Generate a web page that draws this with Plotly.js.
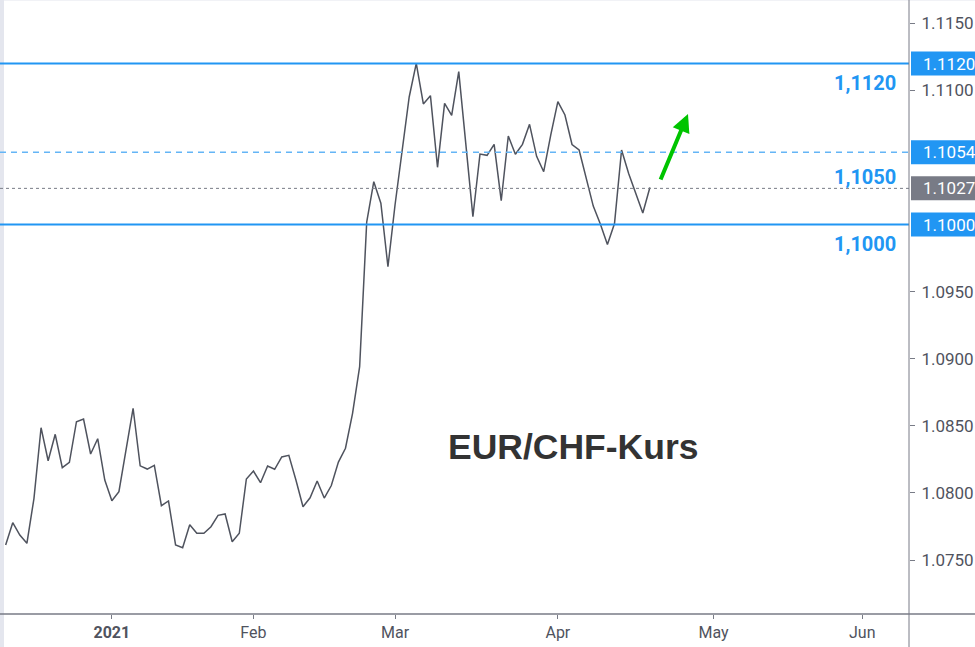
<!DOCTYPE html>
<html>
<head>
<meta charset="utf-8">
<script src="https://cdn.plot.ly/plotly-3.0.1.min.js"></script>
<style>
  html, body { margin: 0; padding: 0; background: #ffffff; }
  #chart { width: 975px; height: 647px; }
</style>
</head>
<body>
<div id="chart"></div>
<script>
// ---- Data (EUR/CHF daily closes) ----
const firstDay = '2020-12-10';
const holidays = ['2020-12-25', '2021-01-01'];
const rates = [
  1.07612, 1.07778, 1.07686, 1.07624, 1.07960, 1.08486, 1.08240, 1.08437, 1.08188, 1.08228,
  1.08531, 1.08551, 1.08290, 1.08404, 1.08096, 1.07942, 1.08009, 1.08320, 1.08631, 1.08202,
  1.08178, 1.08206, 1.07905, 1.07940, 1.07612, 1.07592, 1.07763, 1.07699, 1.07699, 1.07748,
  1.07833, 1.07843, 1.07636, 1.07699, 1.08104, 1.08163, 1.08076, 1.08201, 1.08176, 1.08268,
  1.08280, 1.08096, 1.07897, 1.07964, 1.08089, 1.07962, 1.08055, 1.08230, 1.08333, 1.08593,
  1.08941, 1.10019, 1.10320, 1.10159, 1.09686, 1.10146, 1.10556, 1.10951, 1.11201, 1.10899,
  1.10961, 1.10427, 1.10904, 1.10814, 1.11140, 1.10593, 1.10059, 1.10526, 1.10516, 1.10598,
  1.10178, 1.10660, 1.10524, 1.10598, 1.10747, 1.10509, 1.10394, 1.10668, 1.10917, 1.10817,
  1.10597, 1.10556, 1.10347, 1.10138, 1.10004, 1.09852, 1.10008, 1.10556, 1.10381, 1.10228,
  1.10086, 1.10276
];
const monthTickDates = ['2021-01-04', '2021-02-01', '2021-03-01', '2021-04-01', '2021-05-03', '2021-06-01'];
const monthTickLabels = ['<b>2021</b>', 'Feb', 'Mar', 'Apr', 'May', 'Jun'];
// price-scale ticks that stay visible (1.1000 and 1.1050 are hidden behind the level boxes)
const priceTicks = [1.0750, 1.0800, 1.0850, 1.0900, 1.0950, 1.1100, 1.1150];
const levelValues = [1.1120, 1.1054, 1.1027, 1.1000];
const levelBoxLabels = ['1.1120', '1.1054', '1.1027', '1.1000'];
const zoneValues = [1.1120, 1.1050, 1.1000];
const zoneLabels = ['1,1120', '1,1050', '1,1000'];
const chartTitle = 'EUR/CHF-Kurs';
const xRange = ['2020-12-09 04:48', '2021-06-09 14:24'];
const yRange = [1.070975, 1.11674];

// trading days (weekdays minus holidays)
function tradingDays(start, n, skip) {
  const d = new Date(start + 'T00:00:00Z');
  const out = [];
  while (out.length < n) {
    const dow = d.getUTCDay();
    const s = d.toISOString().slice(0, 10);
    if (dow !== 0 && dow !== 6 && skip.indexOf(s) < 0) out.push(s);
    d.setUTCDate(d.getUTCDate() + 1);
  }
  return out;
}
const dates = tradingDays(firstDay, rates.length, holidays);

// ---- Styles ----
const BLUE = '#2196f3';
const LIGHTBLUE = '#64b5f6';
const GREY = '#787b86';
const TEXT = '#50535e';
const W = 975, H = 647, ML = 0, MR = 66, MT = 0, MB = 33;
const PW = W - ML - MR, PH = H - MT - MB;
const px = v => v / PW;           // pixel -> paper x
const py = v => v / PH;           // pixel -> paper y

const levelLine = [
  {color: BLUE, width: 2, dash: 'solid'},
  {color: LIGHTBLUE, width: 1.5, dash: '6px,5px'},
  {color: GREY, width: 1, dash: 'dot'},
  {color: BLUE, width: 2, dash: 'solid'}
];
const levelBox = [BLUE, BLUE, GREY, BLUE];

const shapes = [];
// left frame strip and top border
shapes.push({type: 'rect', xref: 'paper', yref: 'paper', x0: 0, x1: px(4), y0: -py(MB), y1: 1,
  fillcolor: '#e4e6ee', line: {width: 0}, layer: 'above'});
shapes.push({type: 'line', xref: 'paper', yref: 'paper', x0: 0, x1: px(W), y0: 1, y1: 1,
  line: {color: '#e4e6ee', width: 1}});
// level lines
levelValues.forEach((v, i) => {
  shapes.push({type: 'line', xref: 'paper', yref: 'y', x0: 0, x1: 1, y0: v, y1: v,
    line: levelLine[i], layer: 'above'});
});
// level boxes on the price scale
levelValues.forEach((v, i) => {
  shapes.push({type: 'rect', xref: 'paper', yref: 'y', ysizemode: 'pixel', yanchor: v,
    x0: px(911), x1: px(W + 5), y0: -12, y1: 12,
    fillcolor: levelBox[i], line: {width: 0}, layer: 'above'});
});
// axis cross lines
shapes.push({type: 'line', xref: 'paper', yref: 'paper', x0: 0, x1: px(W), y0: 0, y1: 0,
  line: {color: GREY, width: 1.5}, layer: 'above'});
shapes.push({type: 'line', xref: 'paper', yref: 'paper', x0: 1, x1: 1, y0: -py(MB), y1: 1,
  line: {color: GREY, width: 1}, layer: 'above'});

const annotations = [];
levelValues.forEach((v, i) => {
  annotations.push({xref: 'paper', yref: 'y', x: px(921), y: v, xanchor: 'left', yanchor: 'middle',
    text: levelBoxLabels[i], showarrow: false,
    font: {family: 'Roboto', size: 17, color: '#ffffff'}});
});
zoneValues.forEach((v, i) => {
  annotations.push({xref: 'paper', yref: 'y', x: px(898), y: v, xanchor: 'right', yanchor: 'middle',
    yshift: -19, text: '<b>' + zoneLabels[i] + '</b>', showarrow: false,
    font: {family: 'Roboto', size: 20, color: BLUE}});
});
annotations.push({xref: 'paper', yref: 'paper', x: px(573), y: 1 - py(447), xanchor: 'center', yanchor: 'middle',
  text: '<b>' + chartTitle + '</b>', showarrow: false,
  font: {family: 'Liberation Sans', size: 35.5, color: '#333333'}});
// green arrow
annotations.push({xref: 'paper', yref: 'paper', x: px(688), y: 1 - py(114), ax: -28, ay: 67,
  text: '', showarrow: true, arrowhead: 2, arrowsize: 0.9, arrowwidth: 4, arrowcolor: '#00c400',
  standoff: 0, startstandoff: 0});

const trace = {
  type: 'scatter', mode: 'lines', x: dates, y: rates,
  line: {color: '#4f535e', width: 1.5}, hoverinfo: 'skip', showlegend: false
};

const layout = {
  width: W, height: H,
  margin: {l: ML, r: MR, t: MT, b: MB, pad: 0},
  paper_bgcolor: '#ffffff', plot_bgcolor: '#ffffff',
  showlegend: false,
  xaxis: {
    type: 'date', range: xRange,
    rangebreaks: [{bounds: ['sat', 'mon']}, {values: holidays}],
    tickmode: 'array', tickvals: monthTickDates, ticktext: monthTickLabels,
    ticks: 'outside', ticklen: 4, tickcolor: GREY, tickwidth: 1,
    showgrid: false, zeroline: false, showline: false,
    tickfont: {family: 'Roboto', size: 16, color: TEXT}
  },
  yaxis: {
    side: 'right', range: yRange, tickmode: 'array', tickvals: priceTicks, tickformat: '.4f',
    ticks: 'outside', ticklen: 5, tickcolor: GREY, tickwidth: 1,
    ticklabelstandoff: 3,
    showgrid: false, zeroline: false, showline: false,
    tickfont: {family: 'Roboto', size: 17, color: TEXT}
  },
  shapes: shapes,
  annotations: annotations
};

Plotly.newPlot('chart', [trace], layout, {displayModeBar: false, staticPlot: true});
</script>
</body>
</html>
